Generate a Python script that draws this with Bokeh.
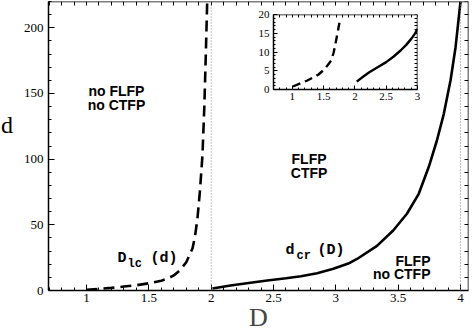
import numpy as np
from bokeh.plotting import figure
from bokeh.layouts import column
from bokeh.models import (LinearAxis, SingleIntervalTicker, FixedTicker, CustomJSTickFormatter,
                          Span, Range1d, Div)
from bokeh.core.properties import value
from bokeh.embed import file_html
from bokeh.resources import INLINE

# ---------------- data ----------------
# dashed curve D_lc(d): (D, d) pairs
lc_D = [1.0, 1.1, 1.2, 1.3, 1.4, 1.5, 1.6, 1.65, 1.7, 1.75, 1.8, 1.85, 1.87, 1.89, 1.91, 1.93, 1.945, 1.957, 1.968]
lc_d = [0.5, 1.2, 2.0, 3.0, 4.0, 5.5, 7.5, 9.0, 11.5, 15.5, 21.5, 32.0, 41.0, 55.0, 76.0, 103.0, 140.0, 180.0, 220.0]
# solid curve d_cr(D)
cr_D = [2.01, 2.155, 2.3, 2.45, 2.6, 2.72, 2.85, 2.98, 3.1, 3.17, 3.33, 3.46, 3.57, 3.665, 3.745, 3.81, 3.866, 3.92, 3.96, 4.0]
cr_d = [1.5, 3.8, 5.7, 7.6, 9.3, 10.8, 13.2, 16.5, 20.5, 24.0, 34.0, 45.7, 58.4, 73.6, 94.0, 114.0, 134.5, 160.0, 185.0, 220.0]
# inset curves
in_lc_D = [1.01, 1.24, 1.42, 1.52, 1.62, 1.66, 1.69, 1.76]
in_lc_d = [0.8, 2.4, 4.0, 5.5, 7.7, 9.8, 12.2, 18.4]
in_cr_D = [2.03, 2.13, 2.23, 2.37, 2.5, 2.62, 2.73, 2.82, 2.9, 2.96, 3.0]
in_cr_d = [2.1, 3.4, 4.6, 6.0, 7.3, 8.8, 10.4, 11.9, 13.5, 14.9, 16.2]
# region boundaries
boundaries = [2, 4]
region_top = ["no FLFP", "FLFP"]
region_bottom = ["no CTFP", "CTFP"]
corner_top = ["FLFP"]
corner_bottom = ["no CTFP"]

SERIF = "Liberation Serif"
fmt = CustomJSTickFormatter(code="return tick.toString()")


def style_axis(ax, font_size, tick_in, minor_in, lw=1.5):
    ax.major_tick_in = tick_in
    ax.major_tick_out = 0
    ax.minor_tick_in = minor_in
    ax.minor_tick_out = 0
    ax.axis_line_width = lw
    ax.axis_line_color = "black"
    ax.major_tick_line_color = "black"
    ax.minor_tick_line_color = "black"
    ax.major_tick_line_width = 1
    ax.minor_tick_line_width = 1
    ax.major_label_text_font = SERIF
    ax.major_label_text_font_size = font_size
    ax.major_label_text_color = "black"
    ax.formatter = fmt


def mirror_axis(lo, hi, step, tick_len, where, lw=1.5):
    # tick-only axis (no labels), pinned to the opposite frame edge; it sits in the
    # left/below panel, so its "out" ticks point into the frame
    ticks = list(np.round(np.arange(lo, hi + 1e-9, step), 6))
    ax = LinearAxis(ticker=FixedTicker(ticks=[], minor_ticks=ticks), fixed_location=where)
    ax.major_tick_in = 0
    ax.major_tick_out = 0
    ax.minor_tick_in = 0
    ax.minor_tick_out = tick_len
    ax.major_label_standoff = 0
    ax.axis_line_width = lw
    ax.axis_line_color = "black"
    ax.minor_tick_line_color = "black"
    return ax


# ---------------- main figure ----------------
X_END = 4.064
p = figure(width=474, height=334, x_range=Range1d(0.695, X_END), y_range=Range1d(0, 220),
           output_backend="svg", toolbar_location=None,
           x_axis_location=None, y_axis_location=None,
           min_border_left=48, min_border_right=2, min_border_top=1, min_border_bottom=44)
p.grid.visible = False
p.outline_line_color = None
p.background_fill_color = "white"
p.border_fill_color = "white"

xb = LinearAxis(ticker=SingleIntervalTicker(interval=0.5, num_minor_ticks=5), axis_label="D")
style_axis(xb, "13px", 6, 3)
xb.major_label_standoff = 3
xb.axis_label_text_font = SERIF
xb.axis_label_text_font_size = "26px"
xb.axis_label_text_font_style = "normal"
xb.axis_label_standoff = -2
p.add_layout(xb, "below")

yl = LinearAxis(ticker=SingleIntervalTicker(interval=50, num_minor_ticks=5))
style_axis(yl, "13px", 6, 3)
yl.major_label_standoff = 5
p.add_layout(yl, "left")

p.add_layout(mirror_axis(0.7, 4.0, 0.1, 4, 220), "below")
p.add_layout(mirror_axis(0, 220, 10, 4, X_END), "left")

for b in boundaries:
    p.add_layout(Span(location=b, dimension="height", line_color="#888888",
                      line_width=1, line_dash="1 2"))

p.line(lc_D, lc_d, line_color="black", line_width=2.6, line_dash="11 6")
p.line(cr_D, cr_d, line_color="black", line_width=2.6)

bold = dict(text_font=value("Liberation Sans"), text_font_style="bold",
            text_font_size="14px", text_color="black", text_baseline="alphabetic")
p.text(x=[1.24, 2.785], y=[151.7, 100.4], text=region_top, text_align="center", **bold)
p.text(x=[1.24, 2.785], y=[141.5, 89.8], text=region_bottom, text_align="center", **bold)
p.text(x=[3.759], y=[22.8], text=corner_top, text_align="right", **bold)
p.text(x=[3.759], y=[12.9], text=corner_bottom, text_align="right", **bold)

mono = dict(text_font=value("Liberation Mono"), text_font_style="bold",
            text_color="black", text_baseline="alphabetic", text_align="left")
p.text(x=[1.249], y=[24.4], text=["D"], text_font_size="15px", **mono)
p.text(x=[1.249], y=[24.4], text=["lc"], text_font_size="12px", x_offset=10, y_offset=6, **mono)
p.text(x=[1.249], y=[24.4], text=["(d)"], text_font_size="15px", x_offset=33, **mono)
p.text(x=[2.596], y=[30.4], text=["d"], text_font_size="15px", **mono)
p.text(x=[2.596], y=[30.4], text=["cr"], text_font_size="12px", x_offset=11, y_offset=5, **mono)
p.text(x=[2.596], y=[30.4], text=["(D)"], text_font_size="15px", x_offset=32, **mono)

# y-axis title, set beside the axis as in the reference
ytitle = Div(text="d", styles={"position": "absolute", "left": "1px", "top": "111px",
                               "font-family": SERIF, "font-size": "24px", "color": "black",
                               "line-height": "28px", "margin": "0"})

# ---------------- inset ----------------
ins = figure(width=198, height=100, x_range=Range1d(0.7, 3), y_range=Range1d(0, 20),
             output_backend="svg", toolbar_location=None,
             x_axis_location=None, y_axis_location=None,
             min_border_left=22, min_border_right=6, min_border_top=8, min_border_bottom=17)
ins.grid.visible = False
ins.outline_line_color = None
ins.styles = {"position": "absolute", "left": "225px", "top": "6px"}

ixb = LinearAxis(ticker=SingleIntervalTicker(interval=0.5, num_minor_ticks=5))
style_axis(ixb, "11px", 4, 2)
ixb.major_label_standoff = 3
ins.add_layout(ixb, "below")
iyl = LinearAxis(ticker=SingleIntervalTicker(interval=5, num_minor_ticks=5))
style_axis(iyl, "11px", 4, 2)
iyl.major_label_standoff = 4
ins.add_layout(iyl, "left")
ins.add_layout(mirror_axis(0.7, 3.0, 0.1, 3, 20), "below")
ins.add_layout(mirror_axis(0, 20, 1, 3, 3.0), "left")

ins.line(in_lc_D, in_lc_d, line_color="black", line_width=2.4, line_dash="8 5")
ins.line(in_cr_D, in_cr_d, line_color="black", line_width=2.4)

layout = column(p, ins, ytitle, styles={"position": "relative"})

open("out.html", "w").write(file_html(layout, INLINE))
